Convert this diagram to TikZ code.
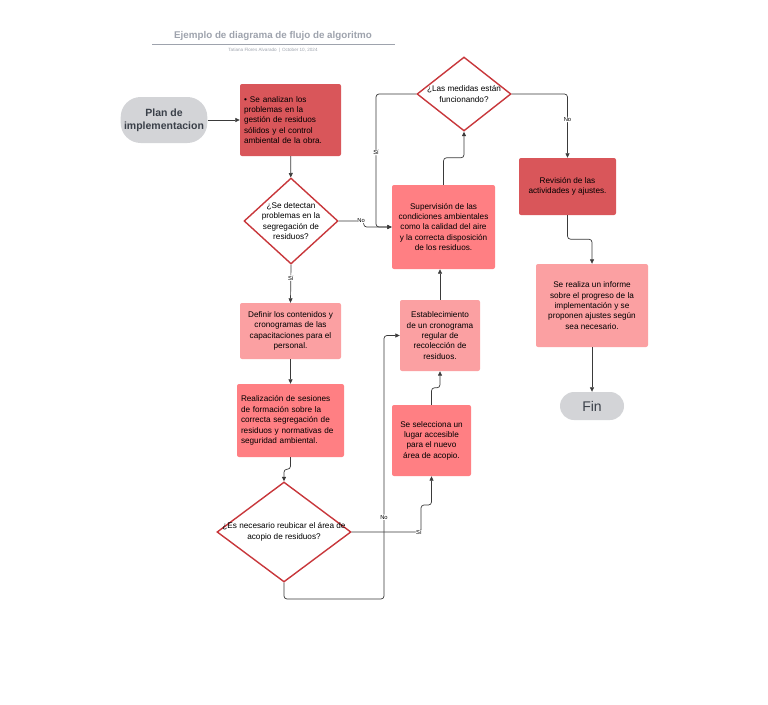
\documentclass[tikz,border=0pt]{standalone}
\usepackage{fontspec}
\setmainfont{Liberation Sans}
\usetikzlibrary{shapes.geometric,arrows.meta,calc}
\definecolor{darkred}{HTML}{D9565A}
\definecolor{midred}{HTML}{FF7F83}
\definecolor{lightred}{HTML}{FBA0A2}
\definecolor{pillgray}{HTML}{D3D4D7}
\definecolor{pilltext}{HTML}{3A4049}
\definecolor{diaborder}{HTML}{C8373B}
\definecolor{titlegray}{HTML}{9EA3AD}
\definecolor{linegray}{HTML}{3A3A3A}
\tikzset{
  box/.style={rectangle, rounded corners=2pt, draw=none, inner sep=2pt, font=\fontsize{8.2}{10.4}\selectfont, text=black},
  pill/.style={rectangle, rounded corners=14pt, fill=pillgray, draw=none, text=pilltext},
  dia/.style={diamond, draw=diaborder, line width=1.4pt, fill=white, inner sep=0pt},
  dtext/.style={font=\fontsize{8.2}{10.4}\selectfont, align=center, text=black},
  conn/.style={draw=linegray, line width=0.7pt, rounded corners=3pt, -{Triangle[length=4.5pt,width=4pt]}},
  elabel/.style={font=\fontsize{5.8}{6}\selectfont, fill=white, inner sep=0.6pt, text=black}
}
\begin{document}
\begin{tikzpicture}[x=1pt,y=-1pt]
\useasboundingbox (0,0) rectangle (768,704);
% title
\node[font=\bfseries\fontsize{9.8}{11}\selectfont, text=titlegray] (title) at (273,36) {Ejemplo de diagrama de flujo de algoritmo};
\draw[titlegray, line width=0.8pt] (152,44) -- (395,44);
\node[font=\fontsize{4.6}{5}\selectfont, text=titlegray] (sub) at (273,50) {Tatiana Flores Alvarado \,|\, October 10, 2024};

% nodes
\node[pill, minimum width=86pt, minimum height=46pt, rounded corners=20pt, align=center, font=\bfseries\fontsize{10.5}{13}\selectfont] (plan) at (164,120) {Plan de\\implementacion};
\node[box, fill=darkred, minimum width=101pt, minimum height=72pt, text width=93pt, align=left] (b1) at (290.5,120)
 {\hangindent=6pt\hangafter=1\makebox[6pt][l]{•}Se analizan los\\problemas en la\\gestión de residuos\\sólidos y el control\\ambiental de la obra.};
\node[dia, minimum width=94pt, minimum height=86pt] (d1) at (291,221) {};
\node[dtext] (d1t) at (d1) {¿Se detectan\\problemas en la\\segregación de\\residuos?};
\node[box, fill=lightred, minimum width=101pt, minimum height=56pt, align=center] (b2) at (290.5,331) {Definir los contenidos y\\cronogramas de las\\capacitaciones para el\\personal.};
\node[box, fill=midred, minimum width=107pt, minimum height=73pt, text width=99pt, align=left] (b3) at (290.5,420.5) {Realización de sesiones\\de formación sobre la\\correcta segregación de\\residuos y normativas de\\seguridad ambiental.};
\node[dia, minimum width=134pt, minimum height=100pt] (d3) at (284,532) {};
\node[dtext] (d3t) at (d3) {¿Es necesario reubicar el área de\\acopio de residuos?};
\node[box, fill=midred, minimum width=79pt, minimum height=71pt, align=center] (sel) at (431.5,440.5) {Se selecciona un\\lugar accesible\\para el nuevo\\área de acopio.};
\node[box, fill=lightred, minimum width=80pt, minimum height=71pt, align=center] (est) at (440,335.5) {Establecimiento\\de un cronograma\\regular de\\recolección de\\residuos.};
\node[box, fill=midred, minimum width=103pt, minimum height=84pt, align=center] (sup) at (443.5,227) {Supervisión de las\\condiciones ambientales\\como la calidad del aire\\y la correcta disposición\\de los residuos.};
\node[dia, minimum width=94pt, minimum height=74pt] (d2) at (464,94) {};
\node[dtext] (d2t) at (d2) {¿Las medidas están\\funcionando?};
\node[box, fill=darkred, minimum width=97pt, minimum height=57pt, align=center] (rev) at (567.5,186.5) {Revisión de las\\actividades y ajustes.};
\node[box, fill=lightred, minimum width=112pt, minimum height=83pt, align=center] (inf) at (592,305.5) {Se realiza un informe\\sobre el progreso de la\\implementación y se\\proponen ajustes según\\sea necesario.};
\node[pill, minimum width=64pt, minimum height=28pt, font=\fontsize{14}{16}\selectfont] (fin) at (592,406) {Fin};

% junction coordinates
\coordinate (j1) at (376,227);
\coordinate (j3) at (421,532);
\coordinate (j4) at (384,599);
\coordinate (j5) at (384,335.5);

% connectors
\draw[conn] (plan) -- (b1);
\draw[conn] (b1) -- (d1);
\draw[conn] (d1.south) -- node[elabel, pos=0.35] {Sí} (b2.north);
\draw[conn] (b2) -- (b3);
\draw[conn] (b3.south) -- ++(0,12) -| (d3.north);
\draw[conn] (d1.east) -- node[elabel, pos=0.9] {No} ++(25,0) |- (sup.west);
\draw[conn] (d2.west) -| node[elabel, pos=0.72] {Sí} (j1) -- (sup.west);
\draw[conn] (d2.east) -| node[elabel, pos=0.7] {No} (rev.north);
\draw[conn] (sup.north) -- ++(0,-27) -| (d2.south);
\draw[conn] (est.north) -- (est.north |- sup.south);
\draw[conn] (sel.north) -- ++(0,-17) -| (est.south);
\draw[conn] (d3.east) -- node[elabel, pos=0.97] {Sí} (j3) -- ++(0,-27) -| (sel.south);
\draw[conn] (d3.south) -- (284,599) -- (j4) -- node[elabel, pos=0.31] {No} (j5) -- (est.west);
\draw[conn] (rev.south) -- ++(0,24) -| (inf.north);
\draw[conn] (inf) -- (fin);
\end{tikzpicture}
\end{document}
